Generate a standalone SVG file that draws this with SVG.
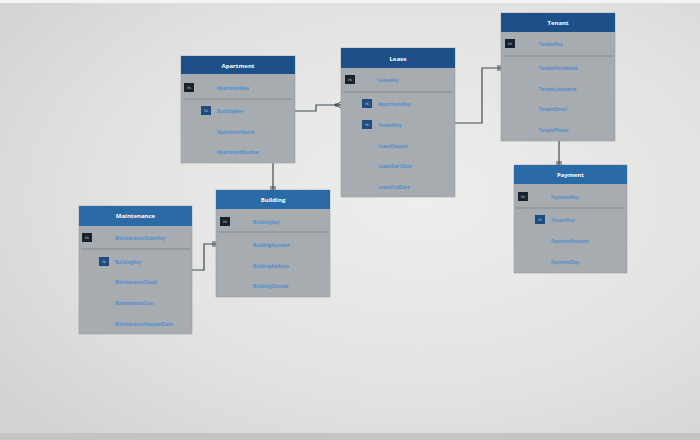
<svg xmlns="http://www.w3.org/2000/svg" width="700" height="440" viewBox="0 0 700 440">
<defs>
<radialGradient id="bg" cx="0.6" cy="0.45" r="0.75">
<stop offset="0" stop-color="#eeefed"/>
<stop offset="0.6" stop-color="#e2e3e1"/>
<stop offset="1" stop-color="#d3d4d2"/>
</radialGradient>
<marker id="one" markerWidth="6" markerHeight="8" refX="5" refY="4" orient="auto" markerUnits="userSpaceOnUse">
<path d="M2,1 V7 M4,1 V7" stroke="#3e4a55" stroke-width="1"/>
</marker>
<marker id="many" markerWidth="8" markerHeight="8" refX="7" refY="4" orient="auto" markerUnits="userSpaceOnUse">
<path d="M1,4 L7,1 M1,4 L7,7 M1,4 H7" stroke="#3e4a55" stroke-width="1" fill="none"/>
<circle cx="2" cy="4" r="1.2" fill="none" stroke="#3e4a55" stroke-width="0.8"/>
</marker>
<style>
.body{fill:#a6acaf;stroke:#979ea3;stroke-width:0.6}
.hdr{fill:#2a6aa6}
.hdr2{fill:#1d4f88}
.title{font-family:"Open Sans","DejaVu Sans",sans-serif;font-size:6px;fill:#ffffff;text-anchor:middle;font-weight:bold}
.row{font-family:"Open Sans","DejaVu Sans",sans-serif;font-size:4.6px;fill:#3f88d6;font-weight:600}
.pk{fill:#17222d}
.fk{fill:#1f4d82}
.bt{font-family:"DejaVu Sans",sans-serif;font-size:3px;fill:#d0d8e0;text-anchor:middle}
.div{stroke:#7f878d;stroke-width:0.8}
.conn{fill:none;stroke:#3e4a55;stroke-width:1.2}
</style>
</defs>
<rect width="700" height="440" fill="url(#bg)"/>
<rect width="700" height="3" fill="#f4f4f4"/>
<rect y="433" width="700" height="7" fill="#c4c5c3"/>

<g id="connectors">
<path class="conn" d="M295,111 H316 V105 H341" marker-start="url(#one)" marker-end="url(#many)"/>
<path class="conn" d="M455,123 H482 V68 H501" marker-start="url(#one)" marker-end="url(#one)"/>
<path class="conn" d="M273,163 V190" marker-start="url(#one)" marker-end="url(#one)"/>
<path class="conn" d="M192,270 H204 V244 H216" marker-start="url(#many)" marker-end="url(#one)"/>
<path class="conn" d="M559,141 V165" marker-start="url(#one)" marker-end="url(#one)"/>
</g>

<g id="apartment">
<rect class="body" x="181" y="56" width="114" height="107"/>
<rect class="hdr2" x="181" y="56" width="114" height="18"/>
<text class="title" x="238" y="67.5">Apartment</text>
<line class="div" x1="183" y1="99" x2="293" y2="99"/>
<rect class="pk" x="184" y="83" width="10" height="9"/><text class="bt" x="189" y="88.5">PK</text>
<text class="row" x="217" y="89.5">ApartmentKey</text>
<rect class="fk" x="201" y="106" width="10" height="9"/><text class="bt" x="206" y="111.5">FK</text>
<text class="row" x="217" y="112.5">BuildingKey</text>
<text class="row" x="217" y="133.5">ApartmentName</text>
<text class="row" x="217" y="153.5">ApartmentNumber</text>
</g>

<g id="lease">
<rect class="body" x="341" y="48" width="114" height="149"/>
<rect class="hdr2" x="341" y="48" width="114" height="20"/>
<text class="title" x="398" y="60.5">Lease</text>
<line class="div" x1="343" y1="92" x2="453" y2="92"/>
<rect class="pk" x="345" y="75" width="10" height="9"/><text class="bt" x="350" y="80.5">PK</text>
<text class="row" x="378" y="81.5">LeaseKey</text>
<rect class="fk" x="362" y="99" width="10" height="9"/><text class="bt" x="367" y="104.5">FK</text>
<text class="row" x="378" y="105.5">ApartmentKey</text>
<rect class="fk" x="362" y="120" width="10" height="9"/><text class="bt" x="367" y="125.5">FK</text>
<text class="row" x="378" y="126.5">TenantKey</text>
<text class="row" x="378" y="147.5">LeaseDeposit</text>
<text class="row" x="378" y="167.5">LeaseStartDate</text>
<text class="row" x="378" y="188.5">LeaseEndDate</text>
</g>

<g id="tenant">
<rect class="body" x="501" y="13" width="114" height="128"/>
<rect class="hdr2" x="501" y="13" width="114" height="19"/>
<text class="title" x="558" y="24.5">Tenant</text>
<line class="div" x1="503" y1="56" x2="613" y2="56"/>
<rect class="pk" x="505" y="39" width="10" height="9"/><text class="bt" x="510" y="44.5">PK</text>
<text class="row" x="539" y="45.5">TenantKey</text>
<text class="row" x="539" y="69.5">TenantFirstName</text>
<text class="row" x="539" y="90.5">TenantLastname</text>
<text class="row" x="539" y="110.5">TenantEmail</text>
<text class="row" x="539" y="131.5">TenantPhone</text>
</g>

<g id="payment">
<rect class="body" x="514" y="165" width="113" height="108"/>
<rect class="hdr" x="514" y="165" width="113" height="19"/>
<text class="title" x="570.5" y="176.5">Payment</text>
<line class="div" x1="516" y1="208" x2="625" y2="208"/>
<rect class="pk" x="518" y="192" width="10" height="9"/><text class="bt" x="523" y="197.5">PK</text>
<text class="row" x="551" y="198.5">PaymentKey</text>
<rect class="fk" x="535" y="215" width="10" height="9"/><text class="bt" x="540" y="220.5">FK</text>
<text class="row" x="551" y="221.5">TenantKey</text>
<text class="row" x="551" y="242.5">PaymentAmount</text>
<text class="row" x="551" y="263.5">PaymentDay</text>
</g>

<g id="building">
<rect class="body" x="216" y="190" width="114" height="107"/>
<rect class="hdr" x="216" y="190" width="114" height="19"/>
<text class="title" x="273" y="201.5">Building</text>
<line class="div" x1="218" y1="232" x2="328" y2="232"/>
<rect class="pk" x="220" y="217" width="10" height="9"/><text class="bt" x="225" y="222.5">PK</text>
<text class="row" x="253" y="223.5">BuildingKey</text>
<text class="row" x="253" y="246.5">BuildingNumber</text>
<text class="row" x="253" y="267.5">BuildingAddress</text>
<text class="row" x="253" y="287.5">BuildingZipcode</text>
</g>

<g id="maintenance">
<rect class="body" x="79" y="206" width="113" height="128"/>
<rect class="hdr" x="79" y="206" width="113" height="20"/>
<text class="title" x="135.5" y="218">Maintenance</text>
<line class="div" x1="81" y1="249" x2="190" y2="249"/>
<rect class="pk" x="82" y="233" width="10" height="9"/><text class="bt" x="87" y="238.5">PK</text>
<text class="row" x="115" y="239.5">MaintenanceOrderKey</text>
<rect class="fk" x="99" y="257" width="10" height="9"/><text class="bt" x="104" y="262.5">FK</text>
<text class="row" x="115" y="263.5">BuildingKey</text>
<text class="row" x="115" y="283.5">MaintenanceDetail</text>
<text class="row" x="115" y="304.5">MaintenanceCost</text>
<text class="row" x="115" y="325.5">MaintenanceRequestDate</text>
</g>
</svg>
